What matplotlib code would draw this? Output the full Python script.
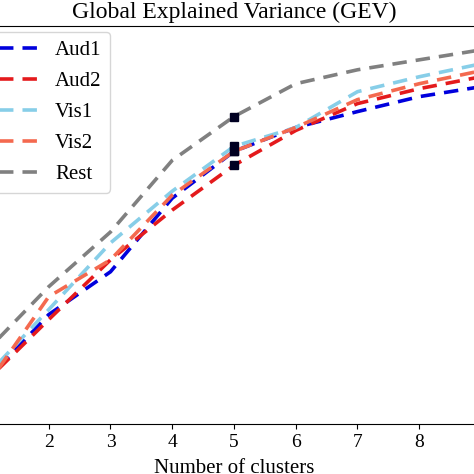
import matplotlib
matplotlib.use("Agg")
import matplotlib.pyplot as plt

# dados (GEV aproximado)
clusters = [1, 2, 3, 4, 5, 6, 7, 8, 9]
aud1 = [0.394, 0.460, 0.503, 0.577, 0.624, 0.648, 0.664, 0.679, 0.689]
aud2 = [0.394, 0.455, 0.515, 0.565, 0.610, 0.645, 0.672, 0.687, 0.699]
vis1 = [0.399, 0.465, 0.532, 0.584, 0.629, 0.648, 0.684, 0.699, 0.712]
vis2 = [0.389, 0.478, 0.515, 0.580, 0.624, 0.648, 0.676, 0.692, 0.705]
rest = [0.424, 0.488, 0.543, 0.615, 0.659, 0.692, 0.706, 0.716, 0.726]
series = [("Aud1", aud1, "#0000dd"), ("Aud2", aud2, "#e41a1c"),
          ("Vis1", vis1, "#87cee8"), ("Vis2", vis2, "#f4694f"),
          ("Rest", rest, "#808080")]
chosen_k = 5

plt.rcParams['font.family'] = ['Liberation Serif', 'DejaVu Serif']

fig = plt.figure(figsize=(4.74, 4.74), dpi=100)
# eixos maiores que a figura (a referencia esta recortada)
ax = fig.add_axes([-13 / 474, 50 / 474, 494 / 474, 398 / 474])

for name, vals, cor in series:
    ax.plot(clusters, vals, "--", color=cor, lw=2.6, dashes=(4, 2.5), label=name)
    ax.plot(chosen_k, vals[chosen_k - 1], "s", color="#000022", ms=6)

ax.set_xlim(1, 9)
ax.set_ylim(0.35, 0.75)
ax.set_yticks([])
ax.set_xticks([2, 3, 4, 5, 6, 7, 8])
ax.tick_params(labelsize=14)
ax.set_xlabel("Number of clusters", fontsize=15, labelpad=6)
ax.set_title("Global Explained Variance (GEV)", fontsize=17, pad=6)
ax.legend(loc="upper left", fontsize=15, handlelength=2.0, labelspacing=0.55,
          borderaxespad=0.3, bbox_to_anchor=(-0.01, 1.0))

fig.savefig("out.png", dpi=100)
